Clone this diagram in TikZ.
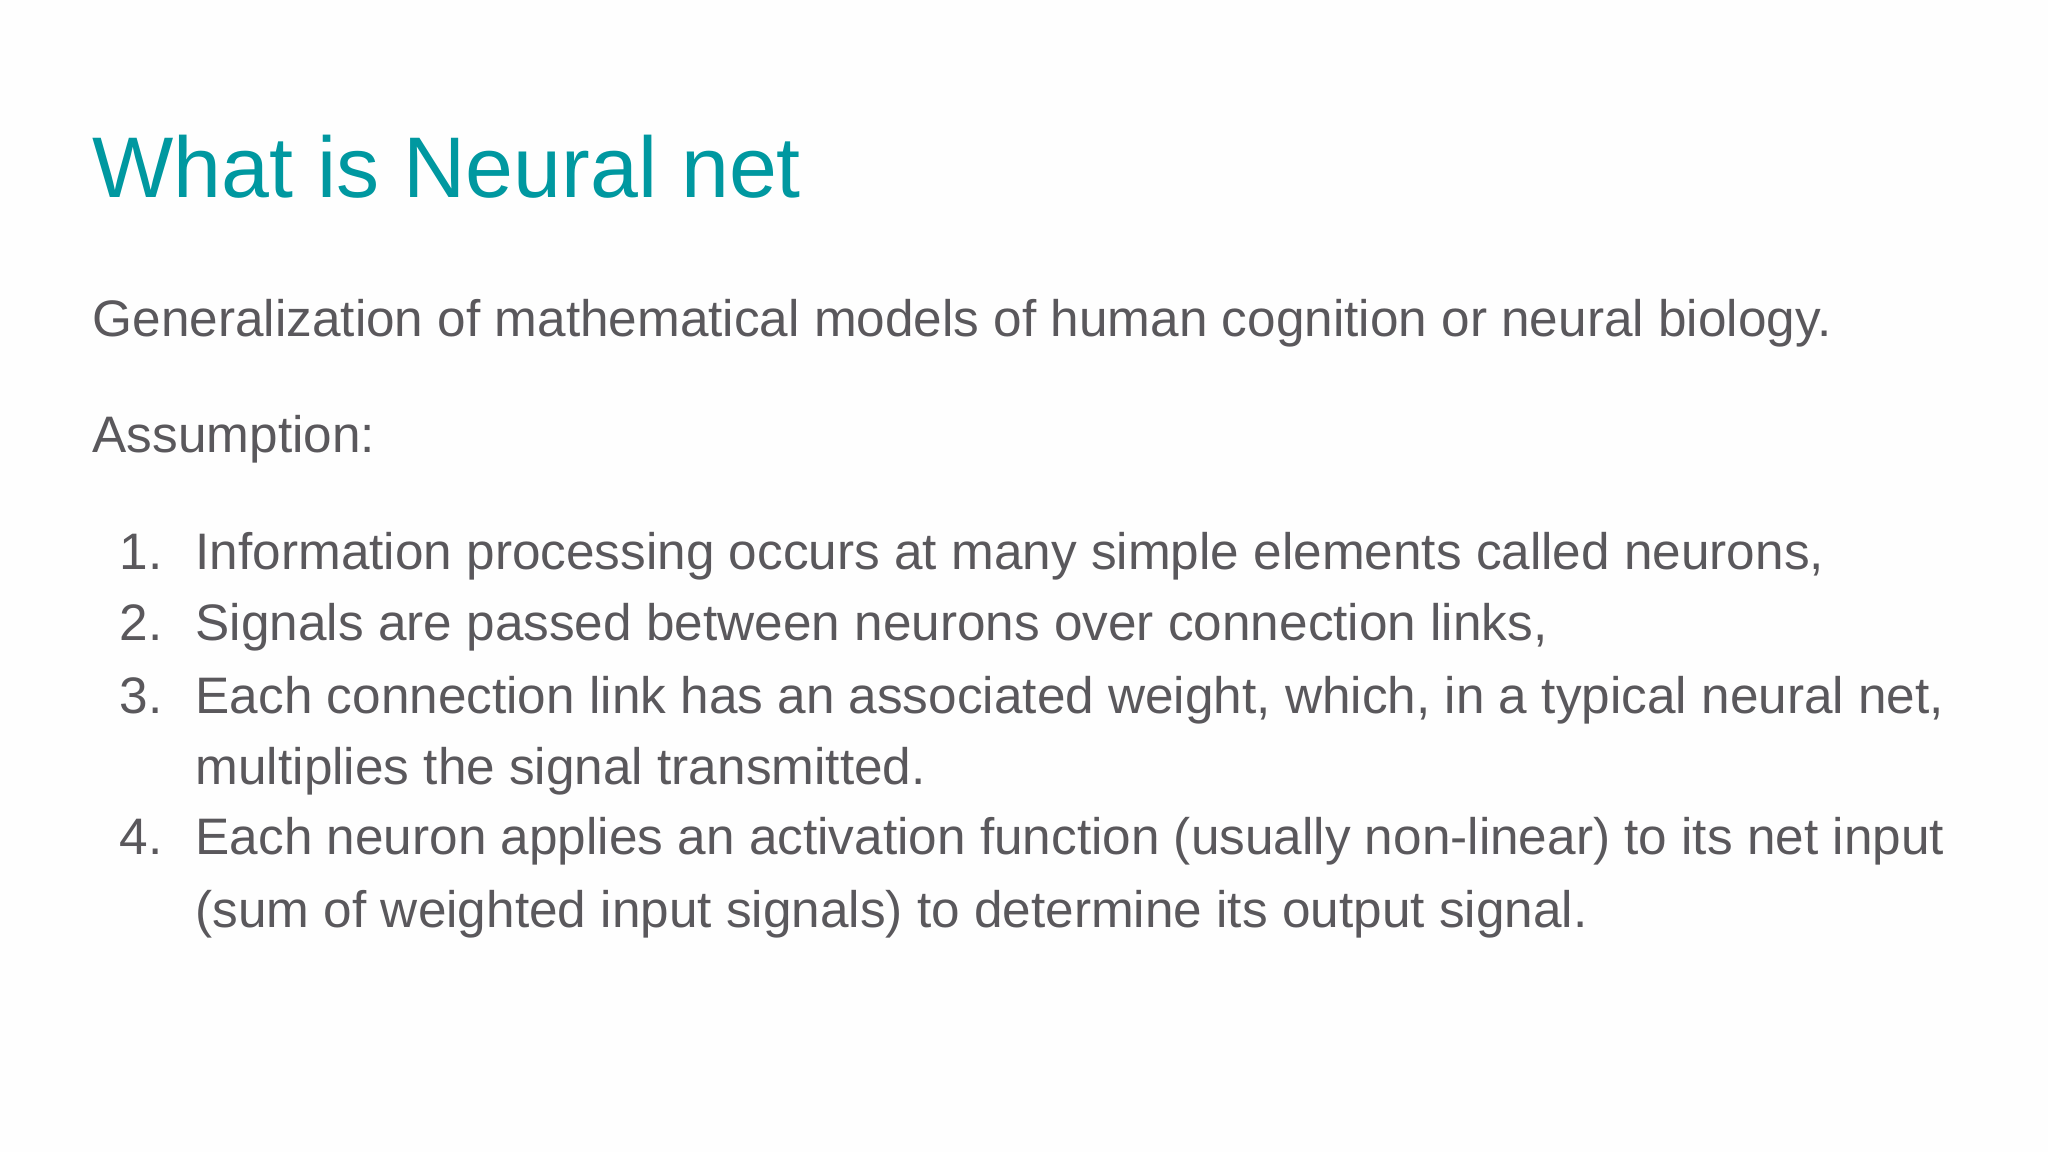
\documentclass[tikz,border=0pt]{standalone}
\usepackage{fontspec}
\setmainfont{Liberation Sans}
\definecolor{titleteal}{RGB}{0,152,160}
\definecolor{bodygrey}{RGB}{90,88,92}
\tikzset{
  titletext/.style={anchor=base west, inner sep=0pt, text=titleteal, font=\fontsize{24.5}{28}\selectfont},
  bodytext/.style={anchor=base west, inner sep=0pt, text=bodygrey, font=\fontsize{14.6}{20}\selectfont},
}
\begin{document}
\begin{tikzpicture}
    \useasboundingbox[fill=white!99!gray] (0,0) rectangle (20.48,-11.52);

    % Title
    \node[titletext] (title) at (0.92,-1.98) {What is Neural net};

    % Intro lines
    \node[bodytext] (intro) at (0.92,-3.37) {Generalization of mathematical models of human cognition or neural biology.};
    \node[bodytext] (assume) at (0.92,-4.53) {Assumption:};

    % Numbered list
    \node[bodytext] (n1) at (1.19,-5.70) {1.};
    \node[bodytext] (t1) at (1.95,-5.70) {Information processing occurs at many simple elements called neurons,};
    \node[bodytext] (n2) at (1.19,-6.41) {2.};
    \node[bodytext] (t2) at (1.95,-6.41) {Signals are passed between neurons over connection links,};
    \node[bodytext] (n3) at (1.19,-7.13) {3.};
    \node[bodytext] (t3) at (1.95,-7.13) {Each connection link has an associated weight, which, in a typical neural net,};
    \node[bodytext] (t3b) at (1.95,-7.84) {multiplies the signal transmitted.};
    \node[bodytext] (n4) at (1.19,-8.55) {4.};
    \node[bodytext] (t4) at (1.95,-8.55) {Each neuron applies an activation function (usually non-linear) to its net input};
    \node[bodytext] (t4b) at (1.95,-9.27) {(sum of weighted input signals) to determine its output signal.};
\end{tikzpicture}
\end{document}
